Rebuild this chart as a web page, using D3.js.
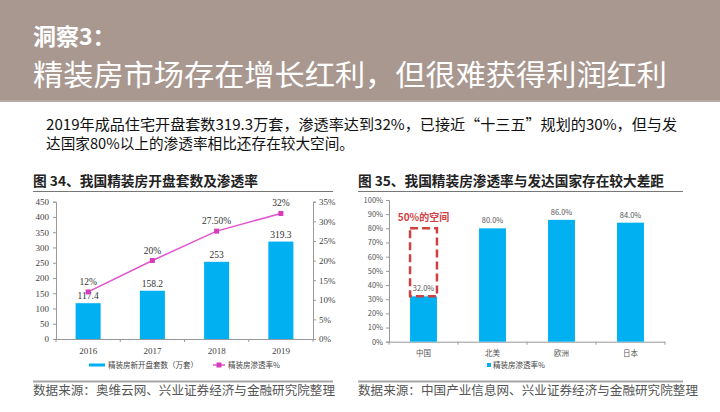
<!DOCTYPE html>
<html>
<head>
  <meta charset="UTF-8">
  <title>洞察3</title>
  <script src="https://d3js.org/d3.v7.min.js"></script>
  <style>
    body { margin: 0; background: #fff; }
    svg { display: block; }
    .cjk { font-family: "Noto Sans CJK SC", "Noto Sans", sans-serif; }
    .serif { font-family: "Liberation Serif", "DejaVu Serif", serif; }
  </style>
</head>
<body>
<svg id="page"></svg>
<script>
  // ---- data ----
  let years = ["2016", "2017", "2018", "2019"];
  let units = [117.4, 158.2, 253, 319.3];
  let unitLabels = ["117.4", "158.2", "253", "319.3"];
  let rates = [0.12, 0.20, 0.275, 0.32];
  let rateLabels = ["12%", "20%", "27.50%", "32%"];
  let leftTicks = [0, 50, 100, 150, 200, 250, 300, 350, 400, 450];
  let rightTicks = [0, 0.05, 0.10, 0.15, 0.20, 0.25, 0.30, 0.35];

  let regions = ["中国", "北美", "欧洲", "日本"];
  let regionRates = [0.32, 0.80, 0.86, 0.84];
  let regionLabels = ["32.0%", "80.0%", "86.0%", "84.0%"];
  let pctTicks = [0, 0.1, 0.2, 0.3, 0.4, 0.5, 0.6, 0.7, 0.8, 0.9, 1.0];
  let gapRange = [0.32, 0.80];

  let width = 720, height = 412;
  let blue = "#00b0f0";
  let pink = "#e453d0";

  let svg = d3.select("#page").attr("width", width).attr("height", height);

  // ---- header ----
  svg.append("rect").attr("x", 0).attr("y", 0).attr("width", width).attr("height", 102)
     .attr("fill", "#a99890");
  svg.append("rect").attr("x", 0).attr("y", 100).attr("width", width).attr("height", 2)
     .attr("fill", "#b9aba4");
  svg.append("text").attr("class", "cjk").attr("x", 33).attr("y", 45)
     .attr("font-size", 23).attr("font-weight", "bold").attr("fill", "#fff")
     .text("洞察3：");
  svg.append("text").attr("class", "cjk").attr("x", 33).attr("y", 86)
     .attr("font-size", 29).attr("fill", "#fff")
     .attr("textLength", 634).attr("lengthAdjust", "spacingAndGlyphs")
     .text("精装房市场存在增长红利，但很难获得利润红利");

  svg.append("text").attr("class", "cjk").attr("x", 46).attr("y", 130)
     .attr("font-size", 15).attr("fill", "#111")
     .attr("textLength", 631).attr("lengthAdjust", "spacingAndGlyphs")
     .text("2019年成品住宅开盘套数319.3万套，渗透率达到32%，已接近“十三五”规划的30%，但与发");
  svg.append("text").attr("class", "cjk").attr("x", 46).attr("y", 149)
     .attr("font-size", 15).attr("fill", "#111")
     .attr("textLength", 308).attr("lengthAdjust", "spacingAndGlyphs")
     .text("达国家80%以上的渗透率相比还存在较大空间。");

  // ---- chart titles, rules and sources ----
  function panelFrame(x0, x1, title, titleLen, source, sourceLen) {
    svg.append("text").attr("class", "cjk").attr("x", x0).attr("y", 186)
       .attr("font-size", 13.5).attr("font-weight", "bold").attr("fill", "#222")
       .attr("textLength", titleLen).attr("lengthAdjust", "spacingAndGlyphs")
       .text(title);
    svg.append("line").attr("x1", x0).attr("x2", x1).attr("y1", 191.5).attr("y2", 191.5)
       .attr("stroke", "#777").attr("stroke-width", 1);
    svg.append("line").attr("x1", x0).attr("x2", x1).attr("y1", 381.5).attr("y2", 381.5)
       .attr("stroke", "#a6a6a6").attr("stroke-width", 2);
    svg.append("text").attr("class", "cjk").attr("x", x0).attr("y", 395)
       .attr("font-size", 12.5).attr("fill", "#555")
       .attr("textLength", sourceLen).attr("lengthAdjust", "spacingAndGlyphs")
       .text(source);
  }
  panelFrame(33, 333, "图 34、我国精装房开盘套数及渗透率", 225,
             "数据来源：奥维云网、兴业证券经济与金融研究院整理", 302);
  panelFrame(358, 683, "图 35、我国精装房渗透率与发达国家存在较大差距", 306,
             "数据来源：中国产业信息网、兴业证券经济与金融研究院整理", 340);

  // ---- chart 1: bars + line, dual axis ----
  let c1 = svg.append("g");
  let x1 = d3.scaleBand().domain(years).range([56, 313]).paddingInner(0.61).paddingOuter(0.305);
  let yL = d3.scaleLinear().domain([0, 450]).range([339, 201.7]);
  let yR = d3.scaleLinear().domain([0, 0.35]).range([339, 201.7]);

  let axL = c1.append("g").attr("transform", "translate(56,0)")
     .call(d3.axisLeft(yL).tickValues(leftTicks).tickSize(3).tickPadding(4));
  let axR = c1.append("g").attr("transform", "translate(313,0)")
     .call(d3.axisRight(yR).tickValues(rightTicks).tickSize(3).tickPadding(3)
           .tickFormat(d => Math.round(d * 100) + "%"));
  let axB = c1.append("g").attr("transform", "translate(0,339)")
     .call(d3.axisBottom(x1).tickSize(0).tickPadding(9));
  // category boundary ticks
  c1.selectAll(".bt").data(d3.range(years.length + 1)).join("line")
     .attr("x1", i => 56 + i * x1.step()).attr("x2", i => 56 + i * x1.step())
     .attr("y1", 339).attr("y2", 342).attr("stroke", "#999");
  [axL, axR, axB].forEach(a => {
    a.selectAll("path, line").attr("stroke", "#999");
    a.selectAll("text").attr("class", "serif").attr("font-size", 9).attr("fill", "#444");
  });
  axB.select(".domain").attr("d", "M56,0.5H313");

  c1.selectAll(".bar").data(years).join("rect")
     .attr("x", d => x1(d)).attr("width", x1.bandwidth())
     .attr("y", (d, i) => yL(units[i])).attr("height", (d, i) => 339 - yL(units[i]))
     .attr("fill", blue);

  c1.selectAll(".ul").data(years).join("text").attr("class", "serif")
     .attr("x", d => x1(d) + x1.bandwidth() / 2).attr("y", (d, i) => yL(units[i]) - 4)
     .attr("text-anchor", "middle").attr("font-size", 9.5).attr("fill", "#333")
     .text((d, i) => unitLabels[i]);

  let line = d3.line().x((d, i) => x1(years[i]) + x1.bandwidth() / 2).y(d => yR(d));
  c1.append("path").datum(rates).attr("d", line)
     .attr("fill", "none").attr("stroke", pink).attr("stroke-width", 1.5);
  c1.selectAll(".mk").data(rates).join("rect")
     .attr("x", (d, i) => x1(years[i]) + x1.bandwidth() / 2 - 2.5).attr("y", d => yR(d) - 2.5)
     .attr("width", 5).attr("height", 5).attr("fill", "#d63cba");
  c1.selectAll(".rl").data(rates).join("text").attr("class", "serif")
     .attr("x", (d, i) => x1(years[i]) + x1.bandwidth() / 2).attr("y", d => yR(d) - 7)
     .attr("text-anchor", "middle").attr("font-size", 9.5).attr("fill", "#333")
     .text((d, i) => rateLabels[i]);

  // legend 1
  c1.append("line").attr("x1", 89).attr("x2", 105).attr("y1", 365).attr("y2", 365)
     .attr("stroke", blue).attr("stroke-width", 3);
  c1.append("text").attr("class", "cjk").attr("x", 108).attr("y", 368)
     .attr("font-size", 7.5).attr("fill", "#444").text("精装房新开盘套数（万套）");
  c1.append("line").attr("x1", 213).attr("x2", 225).attr("y1", 365).attr("y2", 365)
     .attr("stroke", pink).attr("stroke-width", 1.5);
  c1.append("rect").attr("x", 216.5).attr("y", 362.5).attr("width", 5).attr("height", 5)
     .attr("fill", "#d63cba");
  c1.append("text").attr("class", "cjk").attr("x", 228).attr("y", 368)
     .attr("font-size", 7.5).attr("fill", "#444").text("精装房渗透率%");

  // ---- chart 2: penetration by region ----
  let c2 = svg.append("g");
  let x2 = d3.scaleBand().domain(regions).range([389, 665]).paddingInner(0.61).paddingOuter(0.305);
  let y2 = d3.scaleLinear().domain([0, 1]).range([341.7, 200]);

  let ax2L = c2.append("g").attr("transform", "translate(389,0)")
     .call(d3.axisLeft(y2).tickValues(pctTicks).tickSize(3).tickPadding(3)
           .tickFormat(d => Math.round(d * 100) + "%"));
  let ax2B = c2.append("g").attr("transform", "translate(0,341.7)")
     .call(d3.axisBottom(x2).tickSize(0).tickPadding(9));
  c2.selectAll(".bt").data(d3.range(regions.length + 1)).join("line")
     .attr("x1", i => 389 + i * x2.step()).attr("x2", i => 389 + i * x2.step())
     .attr("y1", 341.7).attr("y2", 344.7).attr("stroke", "#999");
  [ax2L, ax2B].forEach(a => {
    a.selectAll("path, line").attr("stroke", "#999");
    a.selectAll("text").attr("class", "cjk").attr("font-size", 7.5).attr("fill", "#555");
  });
  ax2B.select(".domain").attr("d", "M389,0.5H665");

  c2.selectAll(".bar").data(regions).join("rect")
     .attr("x", d => x2(d)).attr("width", x2.bandwidth())
     .attr("y", (d, i) => y2(regionRates[i])).attr("height", (d, i) => y2(0) - y2(regionRates[i]))
     .attr("fill", blue);
  c2.selectAll(".vl").data(regions).join("text").attr("class", "cjk")
     .attr("x", d => x2(d) + x2.bandwidth() / 2).attr("y", (d, i) => y2(regionRates[i]) - 5)
     .attr("text-anchor", "middle").attr("font-size", 7.5).attr("fill", "#555")
     .text((d, i) => regionLabels[i]);

  // gap box
  c2.append("rect")
     .attr("x", x2("中国")).attr("width", x2.bandwidth())
     .attr("y", y2(gapRange[1])).attr("height", y2(gapRange[0]) - y2(gapRange[1]))
     .attr("fill", "none").attr("stroke", "#d0403f").attr("stroke-width", 2.5)
     .attr("stroke-dasharray", "8,4");
  c2.append("text").attr("class", "cjk")
     .attr("x", x2("中国") + x2.bandwidth() / 2).attr("y", y2(gapRange[1]) - 7)
     .attr("text-anchor", "middle").attr("font-size", 10).attr("font-weight", "bold")
     .attr("fill", "#d0403f").text("50%的空间");

  // legend 2
  c2.append("rect").attr("x", 487).attr("y", 363).attr("width", 4).attr("height", 4).attr("fill", blue);
  c2.append("text").attr("class", "cjk").attr("x", 493).attr("y", 368)
     .attr("font-size", 7.5).attr("fill", "#444").text("精装房渗透率%");
</script>
</body>
</html>
